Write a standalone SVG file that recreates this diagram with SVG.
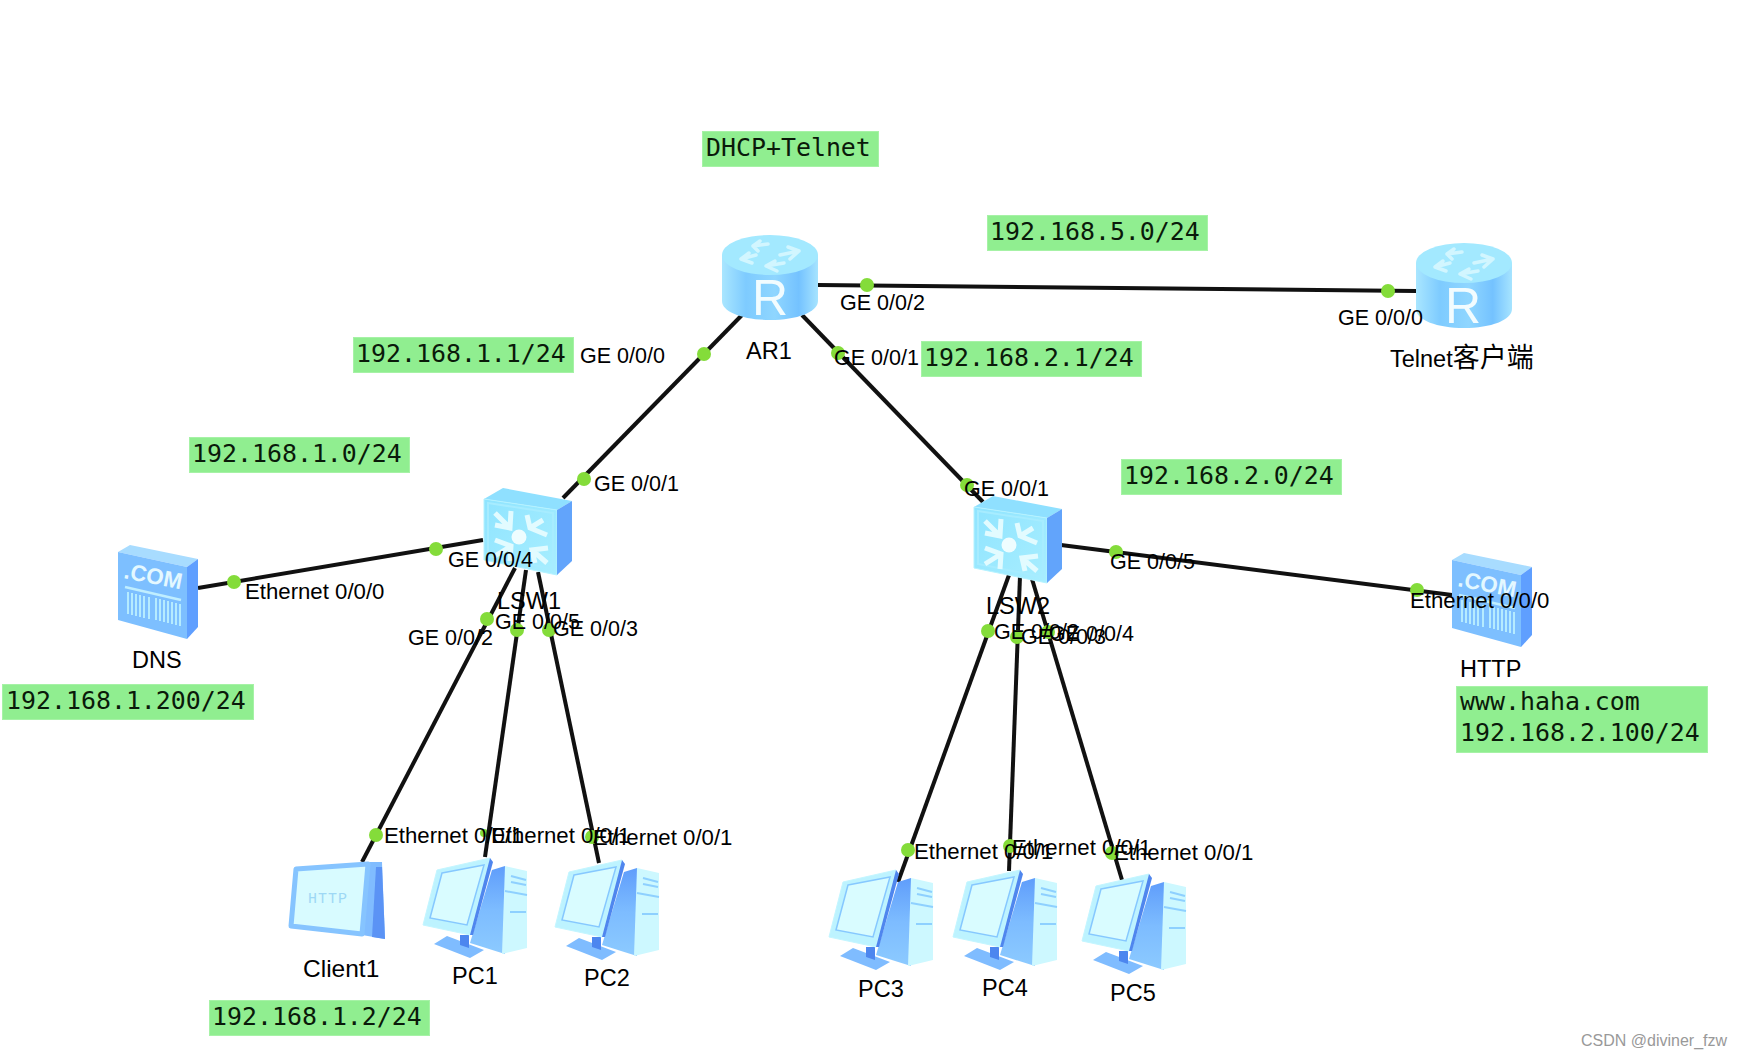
<svg xmlns="http://www.w3.org/2000/svg" width="1740" height="1057" viewBox="0 0 1740 1057">
<style>
text{font-family:"Liberation Sans",Arial,"Noto Sans CJK SC",sans-serif;fill:#000}
.ge{font-size:21.5px}
.eth{font-size:22.2px}
.name{font-size:23.5px}
.box{fill:#90ee90;stroke:#a6f2a6;stroke-width:1}
.note{font-family:"DejaVu Sans Mono","Liberation Mono",monospace;font-size:24.9px;fill:#0a1a0a}
.link{stroke:#111;stroke-width:4;fill:none}
.dot{fill:#84dc3a}
.mark{fill:#f2fcff;font-size:50px}
.com{fill:#e4f8ff;font-size:22.5px;font-weight:bold}
.wm{fill:#999;font-size:16px}
</style>
<defs>
<linearGradient id="body" x1="0" x2="1" y1="0" y2="0">
<stop offset="0" stop-color="#a9e6ff"/><stop offset=".25" stop-color="#7ecbff"/><stop offset=".55" stop-color="#8fd6ff"/><stop offset=".8" stop-color="#74c2ff"/><stop offset="1" stop-color="#a6e4ff"/>
</linearGradient>
<linearGradient id="swf" x1="0" x2="1" y1="0" y2="1">
<stop offset="0" stop-color="#8fe4ff"/><stop offset="1" stop-color="#a8eeff"/>
</linearGradient>
<linearGradient id="towerg" x1="0" x2="0" y1="0" y2="1">
<stop offset="0" stop-color="#5f9dfb"/><stop offset=".5" stop-color="#7dbcff"/><stop offset="1" stop-color="#8ccaff"/>
</linearGradient>
<g id="router-icon">
<path d="M0 20V66C0 77 21 85 48 85S96 77 96 66V20Z" fill="url(#body)"/>
<ellipse cx="48" cy="20" rx="48" ry="20" fill="#a3e9ff"/>
<g fill="none" stroke="#d2f6ff" stroke-width="3.500" stroke-linecap="round">
<path d="M46 9L31 11M31 11L38 6M31 11L36 16"/>
<path d="M19 24L34 20M19 24L27 18M19 24L30 28"/>
<path d="M77 16L58 20M77 16L66 12M77 16L68 24"/>
<path d="M44 31L62 28M44 31L53 26M44 31L55 36"/>
</g>
</g>
<g id="switch-icon">
<path d="M0 11L19 0L88 13L73 22Z" fill="#8fe0ff"/>
<path d="M0 11L73 22V87L0 72Z" fill="url(#swf)" stroke="#b5f2ff" stroke-width="1"/>
<path d="M73 22L88 13V73L73 87Z" fill="#62a4fb"/>
<path d="M4 15L69 25V81L4 68Z" fill="none" stroke="#a7ecff" stroke-width="2"/>
<g fill="none" stroke="#e2fbff" stroke-width="5">
<path d="M27 23L26 40L11 37M26 40L11 25"/><path d="M43 27L46 40L63 47M46 40L59 32"/><path d="M11 52L27 58L26 73M27 58L11 68"/><path d="M64 60L48 62L51 75M48 62L63 75"/>
</g>
<circle cx="35" cy="49" r="7.500" fill="#eefdff"/>
</g>
<g id="server-icon">
<path d="M0 7L12 0L80 14L69 22Z" fill="#a8dcff"/>
<path d="M0 7L69 22V94L0 75Z" fill="#7dbfff"/>
<path d="M69 22L80 14V82L69 94Z" fill="#5f9fff"/>
<path d="M7 42L63 55" stroke="#bfeeff" stroke-width="2.500" fill="none"/>
<path d="M10 47V69M14 48V70M18 49V71M22 50V72M26 51V73M31 52V74M38 53V75M42 54V76M46 55V77M50 56V78M54 57V79M58 58V80M62 59V81" stroke="#b5ebff" stroke-width="2" fill="none"/>
</g>
<g id="pc-icon">
<path d="M69 13L82 9V97L47 86Z" fill="url(#towerg)"/>
<path d="M82 9L104 14V91L79 97Z" fill="#cdf8ff"/>
<path d="M88 19L103 23M88 25L103 28M82 34L104 38M87 55L103 55" stroke="#8ed0ff" stroke-width="2" fill="none"/>
<path d="M11 87L24 79L61 93L47 101Z" fill="#7fbcff"/>
<path d="M37 78H46V91L37 88Z" fill="#4d86ef"/>
<path d="M14 13L67 1L47 78L0 68Z" fill="#bdf3ff" stroke="#c4f6ff" stroke-width="1"/>
<path d="M67 1L70 5L50 78H47Z" fill="#4f86ee"/>
<path d="M19 16L61 8L44 68L7 61Z" fill="#d9fcff" stroke="#86c8ff" stroke-width="1.500"/>
</g>
<g id="client-icon">
<path d="M80 1L92 1L95 78L72 74Z" fill="#80bcff"/>
<path d="M86 6L92 6L95 78L82 76Z" fill="#5b93f5"/>
<path d="M6 8L78 3L72 73L1 65Z" fill="#d8fbff" stroke="#86c4ff" stroke-width="5" stroke-linejoin="round"/>
</g>
</defs>
<rect width="1740" height="1057" fill="#fff"/>
<g id="connectors">
<path class="link" d="M742 315L563 498"/>
<path class="link" d="M802 315L983 502"/>
<path class="link" d="M818 285L1416 291"/>
<path class="link" d="M483 540L198 588"/>
<path class="link" d="M515 568L362 862"/>
<g class="dot"><circle cx="484" cy="833" r="4"/></g>
<path class="link" d="M526 570L485 857"/>
<path class="link" d="M538 572L599 863"/>
<path class="link" d="M1061 545L1452 595"/>
<path class="link" d="M1009 575L898 882"/>
<path class="link" d="M1020 576L1009 871"/>
<path class="link" d="M1032 579L1122 880"/>
<g class="dot">
<circle cx="704" cy="354" r="7"/><circle cx="584" cy="479" r="7"/>
<circle cx="838" cy="353" r="7"/><circle cx="967" cy="485" r="7"/>
<circle cx="867" cy="285" r="7"/><circle cx="1388" cy="291" r="7"/>
<circle cx="436" cy="549" r="7"/><circle cx="234" cy="582" r="7"/>
<circle cx="487" cy="619" r="7"/><circle cx="376" cy="835" r="7"/>
<circle cx="517" cy="630" r="7"/>
<circle cx="549" cy="630" r="7"/><circle cx="592" cy="837" r="7"/>
<circle cx="1116" cy="552" r="7"/><circle cx="1417" cy="590" r="7"/>
<circle cx="988" cy="631" r="7"/><circle cx="908" cy="850" r="7"/>
<circle cx="1017" cy="637" r="7"/><circle cx="1010" cy="846" r="7"/>
<circle cx="1048" cy="632" r="7"/><circle cx="1112" cy="853" r="7"/>
</g>
</g>
<g id="AR1"><use href="#router-icon" x="722" y="235"/><text class="mark" x="752" y="315">R</text><text class="name" x="746" y="359">AR1</text></g>
<g id="Telnet"><use href="#router-icon" x="1416" y="243"/><text class="mark" x="1445" y="323">R</text><text class="name" x="1390" y="367">Telnet<tspan font-size="27">客户端</tspan></text></g>
<g id="LSW1"><use href="#switch-icon" x="484" y="488"/><text class="name" x="497" y="609">LSW1</text></g>
<g id="LSW2"><use href="#switch-icon" x="974" y="496"/><text class="name" x="986" y="614">LSW2</text></g>
<g id="DNS"><use href="#server-icon" x="118" y="545"/><text class="com" transform="translate(123 578) rotate(11)">.COM</text><text class="name" x="132" y="668">DNS</text></g>
<g id="HTTP"><use href="#server-icon" x="1452" y="553"/><text class="com" transform="translate(1457 586) rotate(11)">.COM</text><text class="name" x="1460" y="677">HTTP</text></g>
<g id="Client1"><use href="#client-icon" x="290" y="861"/><text x="308" y="903" style="font-family:'Liberation Mono',monospace;font-size:15px;fill:#9ed8f5;letter-spacing:1px">HTTP</text><text class="name" x="303" y="977" style="font-size:24.5px">Client1</text></g>
<g id="PC1"><use href="#pc-icon" x="423" y="857"/><text class="name" x="452" y="984">PC1</text></g>
<g id="PC2"><use href="#pc-icon" x="555" y="859"/><text class="name" x="584" y="986">PC2</text></g>
<g id="PC3"><use href="#pc-icon" x="829" y="869"/><text class="name" x="858" y="997">PC3</text></g>
<g id="PC4"><use href="#pc-icon" x="953" y="869"/><text class="name" x="982" y="996">PC4</text></g>
<g id="PC5"><use href="#pc-icon" x="1082" y="873"/><text class="name" x="1110" y="1001">PC5</text></g>
<g id="port-labels">
<text class="ge" x="840" y="310">GE 0/0/2</text>
<text class="ge" x="834" y="365">GE 0/0/1</text>
<text class="ge" x="580" y="363">GE 0/0/0</text>
<text class="ge" x="1338" y="325">GE 0/0/0</text>
<text class="ge" x="594" y="491">GE 0/0/1</text>
<text class="ge" x="448" y="567">GE 0/0/4</text>
<text class="ge" x="495" y="629">GE 0/0/5</text>
<text class="ge" x="408" y="645">GE 0/0/2</text>
<text class="ge" x="553" y="636">GE 0/0/3</text>
<text class="ge" x="964" y="496">GE 0/0/1</text>
<text class="ge" x="1110" y="569">GE 0/0/5</text>
<text class="ge" x="994" y="639">GE 0/0/2</text>
<text class="ge" x="1021" y="644">GE 0/0/3</text>
<text class="ge" x="1049" y="641">GE 0/0/4</text>
<text class="eth" x="245" y="599">Ethernet 0/0/0</text>
<text class="eth" x="1410" y="608">Ethernet 0/0/0</text>
<text class="eth" x="384" y="843">Ethernet 0/0/1</text>
<text class="eth" x="491" y="843">Ethernet 0/0/1</text>
<text class="eth" x="593" y="845">Ethernet 0/0/1</text>
<text class="eth" x="914" y="859">Ethernet 0/0/1</text>
<text class="eth" x="1012" y="855">Ethernet 0/0/1</text>
<text class="eth" x="1114" y="860">Ethernet 0/0/1</text>
</g>
<g id="note-title"><rect class="box" x="702.500" y="131.500" width="176" height="35"/><text class="note" x="706" y="156">DHCP+Telnet</text></g>
<g id="note-5-0"><rect class="box" x="987.500" y="215.500" width="220" height="35"/><text class="note" x="990" y="240">192.168.5.0/24</text></g>
<g id="note-1-1"><rect class="box" x="353.500" y="337.500" width="220" height="35"/><text class="note" x="356" y="362">192.168.1.1/24</text></g>
<g id="note-2-1"><rect class="box" x="921.500" y="341.500" width="220" height="35"/><text class="note" x="924" y="366">192.168.2.1/24</text></g>
<g id="note-1-0"><rect class="box" x="189.500" y="437.500" width="220" height="35"/><text class="note" x="192" y="462">192.168.1.0/24</text></g>
<g id="note-2-0"><rect class="box" x="1121.500" y="459.500" width="220" height="35"/><text class="note" x="1124" y="484">192.168.2.0/24</text></g>
<g id="note-dns"><rect class="box" x="2.500" y="684.500" width="251" height="35"/><text class="note" x="6" y="709">192.168.1.200/24</text></g>
<g id="note-client"><rect class="box" x="209.500" y="1000.500" width="220" height="35"/><text class="note" x="212" y="1025">192.168.1.2/24</text></g>
<g id="note-http"><rect class="box" x="1456.500" y="686.500" width="251" height="66"/><text class="note" x="1460" y="710">www.haha.com</text><text class="note" x="1460" y="741">192.168.2.100/24</text></g>
<text class="wm" x="1581" y="1046">CSDN @diviner_fzw</text>
</svg>
